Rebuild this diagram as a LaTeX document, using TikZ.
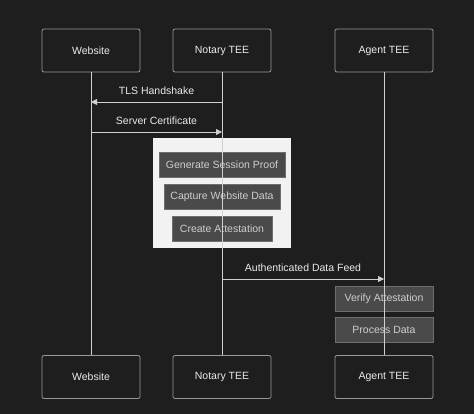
\documentclass[tikz,border=0pt]{standalone}
\usepackage{fontspec}
\setmainfont{Liberation Sans}
\usetikzlibrary{arrows.meta}
\definecolor{bg}{HTML}{1E1E1E}
\definecolor{frame}{HTML}{9A9A9A}
\definecolor{life}{HTML}{D0D0D0}
\definecolor{txt}{HTML}{EAEAEA}
\definecolor{act}{HTML}{4A4A4A}
\definecolor{grp}{HTML}{F2F2F2}
\begin{document}
\begin{tikzpicture}[x=1pt,y=-1pt,
  actor/.style={draw=frame,rounded corners=2pt,line width=0.8pt,minimum width=98pt,minimum height=43pt,text=txt,font=\fontsize{10.5}{12}\selectfont,inner sep=0pt},
  proc/.style={fill=act,draw=act!80!white,line width=0.4pt,minimum height=25pt,text=txt!88!black,font=\fontsize{10.5}{12}\selectfont,inner sep=0pt},
  lifeline/.style={draw=life,line width=0.8pt},
  msg/.style={draw=life,line width=0.8pt,-{Triangle[length=6pt,width=6pt]}},
  lbl/.style={text=txt,font=\fontsize{10.5}{12}\selectfont}
]
\fill[bg] (0,0) rectangle (474,414);
\useasboundingbox (0,0) rectangle (474,414);
% actors
\node[actor] (wt) at (91,50.5) {Website};
\node[actor] (nt) at (222,50.5) {Notary TEE};
\node[actor] (at) at (384,50.5) {Agent TEE};
\node[actor] (wb) at (91,377) {Website};
\node[actor] (nb) at (222,377) {Notary TEE};
\node[actor] (ab) at (384,377) {Agent TEE};
% group box
\node[fill=grp,minimum width=138pt,minimum height=110pt,inner sep=0pt] (grp) at (222,193) {};
\node[proc,minimum width=126pt] (p1) at (222,165) {Generate Session Proof};
\node[proc,minimum width=116pt] (p2) at (222,197) {Capture Website Data};
\node[proc,minimum width=100pt] (p3) at (222,229) {Create Attestation};
\node[proc,minimum width=98pt] (p4) at (384,298.5) {Verify Attestation};
\node[proc,minimum width=98pt] (p5) at (384,330) {Process Data};
% lifelines
\draw[lifeline] (wt) -- (wb);
\draw[lifeline] (nt) -- (nb);
\draw[lifeline] (at) -- (ab);
% messages
\coordinate (w1) at (91,102); \coordinate (n1) at (222,102);
\coordinate (w2) at (91,132); \coordinate (n2) at (222,132);
\coordinate (n3) at (222,279); \coordinate (a3) at (384,279);
\draw[msg] (n1) -- (w1);
\node[lbl] (l1) at (156.5,91) {TLS Handshake};
\draw[msg] (w2) -- (n2);
\node[lbl] (l2) at (156.5,121) {Server Certificate};
\draw[msg] (n3) -- (a3);
\node[lbl] (l3) at (303,268) {Authenticated Data Feed};
\end{tikzpicture}
\end{document}
